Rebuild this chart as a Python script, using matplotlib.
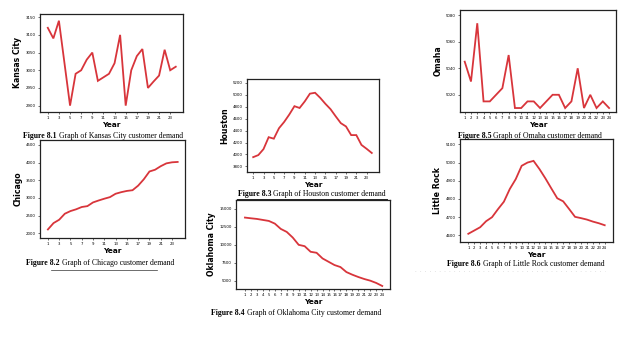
import matplotlib
matplotlib.use("Agg")
import matplotlib.pyplot as plt
from matplotlib.lines import Line2D

W, H = 638, 359
years = list(range(1, 25))

kansas_city = [3120, 3090, 3140, 3020, 2900, 2990, 3000, 3030, 3050, 2970, 2980, 2990,
               3020, 3100, 2900, 3000, 3040, 3060, 2950, 2968, 2985, 3058, 3000, 3010]
chicago = [2110, 2290, 2385, 2555, 2630, 2680, 2745, 2770, 2875, 2930, 2980, 3025,
           3120, 3165, 3200, 3220, 3350, 3530, 3750, 3800, 3900, 3980, 4010, 4020]
houston = [3955, 3990, 4090, 4290, 4265, 4440, 4545, 4670, 4810, 4780, 4890, 5020,
           5035, 4950, 4850, 4760, 4640, 4525, 4470, 4325, 4325, 4160, 4095, 4025]
oklahoma_city = [13800, 13700, 13610, 13470, 13330, 12960, 12220, 11800, 11020, 10000,
                 9810, 9030, 8890, 8100, 7640, 7180, 6900, 6200, 5830, 5510, 5230,
                 5000, 4680, 4260]
omaha = [5045, 5030, 5074, 5015, 5015, 5020, 5025, 5050, 5010, 5010, 5015, 5015,
         5010, 5015, 5020, 5020, 5010, 5015, 5040, 5010, 5020, 5010, 5015, 5010]
little_rock = [4609, 4627, 4645, 4678, 4700, 4744, 4785, 4855, 4909, 4982, 5000, 5009,
               4964, 4913, 4858, 4804, 4787, 4745, 4702, 4695, 4687, 4676, 4667, 4656]

odd_ticks = list(range(1, 24, 2))
all_ticks = years

kc_yticks = [2900, 2950, 3000, 3050, 3100, 3150]
chi_yticks = [2000, 2500, 3000, 3500, 4000, 4500]
hou_yticks = [3800, 4000, 4200, 4400, 4600, 4800, 5000, 5200]
okc_yticks = [5000, 7500, 10000, 12500, 15000]
oma_yticks = [5020, 5040, 5060, 5080]
lr_yticks = [4600, 4700, 4800, 4900, 5000, 5100]

captions = [
    ("Figure 8.1", "Graph of Kansas City customer demand"),
    ("Figure 8.2", "Graph of Chicago customer demand"),
    ("Figure 8.3", "Graph of Houston customer demand"),
    ("Figure 8.4", "Graph of Oklahoma City customer demand"),
    ("Figure 8.5", "Graph of Omaha customer demand"),
    ("Figure 8.6", "Graph of Little Rock customer demand"),
]

RED = "#d8353b"
fig = plt.figure(figsize=(W / 100, H / 100), dpi=100)
fig.patch.set_facecolor("white")


def px_axes(x0, y0, x1, y1):
    return fig.add_axes([x0 / W, 1 - y1 / H, (x1 - x0) / W, (y1 - y0) / H])


def make_chart(box, values, name, xticks, yticks, xlim, ylim):
    ax = px_axes(*box)
    ax.plot(years, values, color=RED, lw=1.3, solid_joinstyle="miter")
    ax.set_xlim(*xlim)
    ax.set_ylim(*ylim)
    ax.set_xticks(xticks)
    ax.set_xticklabels([str(t) for t in xticks], fontsize=2.8)
    ax.set_yticks(yticks)
    ax.set_yticklabels([str(t) for t in yticks], fontsize=2.8)
    ax.tick_params(length=1.5, width=0.4, pad=1.5)
    for s in ax.spines.values():
        s.set_linewidth(0.9)
        s.set_color("#222222")
    ax.set_xlabel("Year", fontsize=5.3, fontweight="bold", labelpad=1.2,
                  family="DejaVu Sans")
    ax.set_ylabel(name, fontsize=5.6, fontweight="bold", labelpad=2.5,
                  family="DejaVu Sans")
    return ax


def caption(xc, y, parts, fs=5.6):
    bold, rest = parts
    t1 = fig.text(0, 1 - y / H, bold + " ", fontsize=fs, fontweight="bold",
                  family="Liberation Serif", va="center", ha="left")
    t2 = fig.text(0, 1 - y / H, rest, fontsize=fs, family="Liberation Serif",
                  va="center", ha="left")
    r = fig.canvas.get_renderer()
    w1 = t1.get_window_extent(r).width
    w2 = t2.get_window_extent(r).width
    x0 = xc - (w1 + w2) / 2
    t1.set_x(x0 / W)
    t2.set_x((x0 + w1) / W)
    return x0, x0 + w1, x0 + w1 + w2


make_chart((40, 14, 183, 112), kansas_city, "Kansas City", odd_ticks, kc_yticks,
           (-0.4, 25.3), (2882, 3159))
make_chart((40, 140, 185, 238), chicago, "Chicago", odd_ticks, chi_yticks,
           (-0.4, 25.3), (1868, 4641))
make_chart((247, 79, 379, 172), houston, "Houston", odd_ticks, hou_yticks,
           (-0.2, 25.4), (3706, 5266))
make_chart((236, 200, 390, 289), oklahoma_city, "Oklahoma City", all_ticks, okc_yticks,
           (-0.5, 25.3), (3840, 16250))
make_chart((460, 10, 616, 112), omaha, "Omaha", all_ticks, oma_yticks,
           (0.25, 25.1), (5007, 5084))
make_chart((460, 139, 613, 242), little_rock, "Little Rock", all_ticks, lr_yticks,
           (-0.4, 25.4), (4564, 5129))

caption(103, 135.5, captions[0])
caption(100, 263, captions[1])
caption(312, 194, captions[2])
caption(296, 313, captions[3])
caption(530, 135.5, captions[4])
caption(526, 264, captions[5])

# underline under figure 8.2 caption and rule under 8.3 caption
fig.add_artist(Line2D([51 / W, 157 / W], [1 - 270 / H, 1 - 270 / H],
                      color="#333333", lw=0.5))
fig.add_artist(Line2D([237 / W, 387 / W], [1 - 199 / H, 1 - 199 / H],
                      color="#222222", lw=0.7))
# faint dotted residue under figure 8.6
fig.add_artist(Line2D([415 / W, 605 / W], [1 - 271 / H, 1 - 271 / H],
                      color="#cccccc", lw=0.5, ls=(0, (1, 6))))

fig.savefig("out.png", dpi=100, facecolor="white")
